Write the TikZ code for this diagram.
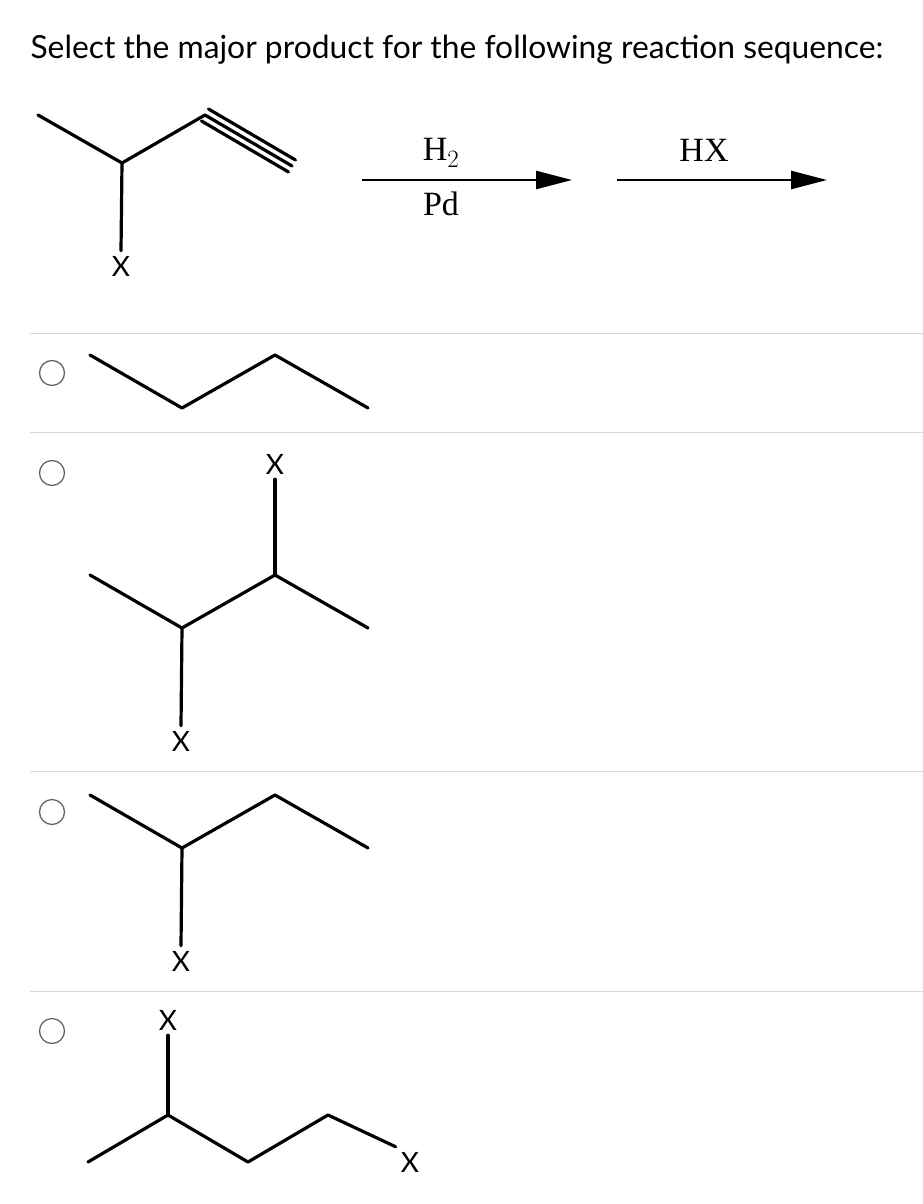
\documentclass[tikz,border=0pt]{standalone}
\usepackage{fontspec}
\setmainfont{Lato}
\newfontfamily\serifx{Liberation Serif}
\usetikzlibrary{arrows.meta}
\begin{document}
\begin{tikzpicture}[x=1pt,y=-1pt,
  bond/.style={line width=3.2pt,line cap=round,line join=round},
  sep/.style={draw=black!15,line width=1pt},
  radio/.style={circle,draw=black!60,line width=1.3pt,minimum size=25pt,inner sep=0pt},
  lab/.style={font=\fontsize{28}{30}\selectfont,inner sep=5pt},
  rea/.style={font=\serifx\fontsize{34}{36}\selectfont,inner sep=1pt},
  rarrow/.style={line width=2.6pt,-{Triangle[length=36pt,width=18pt]}}]
\useasboundingbox (0,0) rectangle (923,1204);
\node[anchor=west,font=\fontsize{31.8}{34}\selectfont] (title) at (27,50) {Select the major product for the following reaction sequence:};
% starting material
\coordinate (a1) at (38,115); \coordinate (a2) at (122,163); \coordinate (a3) at (205,115); \coordinate (a4) at (292,166);
\node[lab] (x0) at (121,266) {X};
\draw[bond] (a1)--(a2)--(a3);
\draw[bond] (a2)--(x0.north);
\draw[bond] (a3)--(a4);
\draw[bond] ([shift={(3.5,-6)}]a3)--([shift={(3.5,-6)}]a4);
\draw[bond] ([shift={(-3.5,6)}]a3)--([shift={(-3.5,6)}]a4);
% arrows
\coordinate (r1s) at (362,180); \coordinate (r1e) at (572,180);
\coordinate (r2s) at (617,180); \coordinate (r2e) at (827,180);
\draw[rarrow] (r1s)--(r1e);
\draw[rarrow] (r2s)--(r2e);
\node[rea] (h2) at (441,153) {H$_{\textstyle 2}$};
\node[rea] (pd) at (441,204) {Pd};
\node[rea] (hx) at (704,150) {HX};
% separators
\foreach \y/\n in {333/s1,432/s2,771/s3,991/s4}{
  \coordinate (\n a) at (30,\y); \coordinate (\n b) at (923,\y);
  \draw[sep] (\n a)--(\n b);}
% radios
\node[radio] (o1) at (52,373) {};
\node[radio] (o2) at (52,473) {};
\node[radio] (o3) at (52,812) {};
\node[radio] (o4) at (52,1031) {};
% option 1
\coordinate (b1) at (90,355); \coordinate (b2) at (182,408); \coordinate (b3) at (275,355); \coordinate (b4) at (368,408);
\draw[bond] (b1)--(b2)--(b3)--(b4);
% option 2
\node[lab] (x2a) at (275,464) {X};
\node[lab] (x2b) at (181,741) {X};
\coordinate (c1) at (90,575); \coordinate (c2) at (182,628); \coordinate (c3) at (275,575); \coordinate (c4) at (368,628);
\draw[bond] (c1)--(c2)--(c3)--(c4);
\draw[bond] (c3)--(x2a.south);
\draw[bond] (c2)--(x2b.north);
% option 3
\node[lab] (x3) at (181,961) {X};
\coordinate (d1) at (90,795); \coordinate (d2) at (182,848); \coordinate (d3) at (275,795); \coordinate (d4) at (368,848);
\draw[bond] (d1)--(d2)--(d3)--(d4);
\draw[bond] (d2)--(x3.north);
% option 4
\node[lab] (x4a) at (168,1020) {X};
\node[lab] (x4b) at (410,1162) {X};
\coordinate (e1) at (88,1162); \coordinate (e2) at (168,1115); \coordinate (e3) at (248,1162); \coordinate (e4) at (328,1115);
\draw[bond] (e1)--(e2)--(e3)--(e4)--(x4b.north west);
\draw[bond] (e2)--(x4a.south);
\end{tikzpicture}
\end{document}
